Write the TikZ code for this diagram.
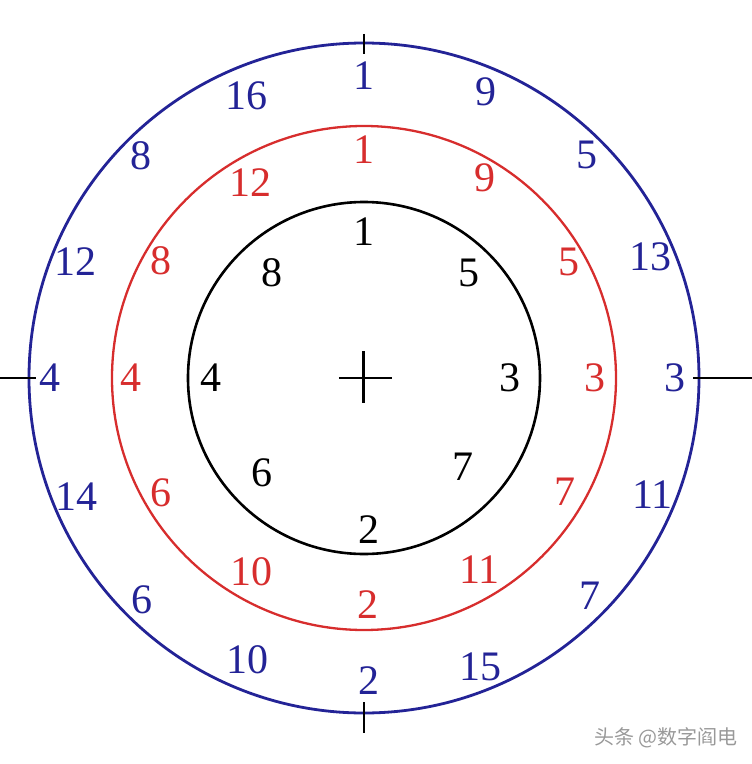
\documentclass[tikz,border=0pt]{standalone}
\usepackage{fontspec}
\setmainfont{Liberation Serif}
\newfontfamily\cjkfont{Noto Sans CJK SC}
\usepackage{tikz}
\definecolor{ringblue}{RGB}{35,35,150}
\definecolor{ringred}{RGB}{215,45,45}

\begin{document}
\begin{tikzpicture}[x=1pt,y=1pt]
    \begin{scope}[every node/.style={font=\fontsize{42}{42}\selectfont, inner sep=0pt}]

      % defines
      \pgfmathsetmacro\BRad{335} % blue ring
      \pgfmathsetmacro\RRad{252} % red ring
      \pgfmathsetmacro\KRad{176} % black ring
      \pgfmathsetmacro\BLab{311} % blue labels
      \pgfmathsetmacro\RLab{231} % red labels
      \pgfmathsetmacro\KLab{146} % black labels

      % picture size
      \useasboundingbox (-364,-386) rectangle (388,378);
      \coordinate (C) at (0,0);

      % draw the three rings
      \draw[ringblue, line width=2.8pt] (C) circle ({\BRad pt});
      \draw[ringred, line width=2.3pt] (C) circle ({\RRad pt});
      \draw[black, line width=2.6pt] (C) circle ({\KRad pt});

      % draw ticks and centre cross
      \draw[line width=1.8pt] (0,344) -- (0,324);
      \draw[line width=1.8pt] (0,-324) -- (0,-355);
      \draw[line width=1.4pt] (-364,0) -- (-328,0);
      \draw[line width=1.4pt] (329,0) -- (388,0);
      \draw[line width=3pt] (0,27) -- (0,-25);
      \draw[line width=1.6pt] (-25,0) -- (28,0);

      % blue labels
      \node[ringblue] (B1) at (90:{\BLab-9}) {1};
      \node[ringblue] (B9) at (67:\BLab) {9};
      \node[ringblue] (B5) at (45:{\BLab+4}) {5};
      \node[ringblue] (B13) at (23:\BLab) {13};
      \node[ringblue] (B3) at (0:\BLab) {3};
      \node[ringblue] (B11) at (-22:\BLab) {11};
      \node[ringblue] (B7) at (-44:{\BLab+3}) {7};
      \node[ringblue] (B15) at (-68:\BLab) {15};
      \node[ringblue] (B2) at (-89:{\BLab-8}) {2};
      \node[ringblue] (B10) at (-112.5:{\BLab-6}) {10};
      \node[ringblue] (B6) at (-135:{\BLab+3}) {6};
      \node[ringblue] (B14) at (-157.5:\BLab) {14};
      \node[ringblue] (B4) at (180:{\BLab+3}) {4};
      \node[ringblue] (B12) at (158:\BLab) {12};
      \node[ringblue] (B8) at (135:{\BLab+4}) {8};
      \node[ringblue] (B16) at (112.5:{\BLab-5}) {16};

      % red labels
      \node[ringred] (R1) at (90:{\RLab-3}) {1};
      \node[ringred] (R9) at (59:{\RLab+3}) {9};
      \node[ringred] (R5) at (29.5:{\RLab+4}) {5};
      \node[ringred] (R3) at (0:\RLab) {3};
      \node[ringred] (R7) at (-29.5:\RLab) {7};
      \node[ringred] (R11) at (-59:{\RLab-7}) {11};
      \node[ringred] (R2) at (-89:{\RLab-4}) {2};
      \node[ringred] (R10) at (-120:{\RLab-7}) {10};
      \node[ringred] (R6) at (-150.5:{\RLab+2}) {6};
      \node[ringred] (R4) at (180:{\RLab+2}) {4};
      \node[ringred] (R8) at (150:{\RLab+3}) {8};
      \node[ringred] (R12) at (120:{\RLab-5}) {12};

      % black labels
      \node (K1) at (90:\KLab) {1};
      \node (K5) at (45:{\KLab+2}) {5};
      \node (K3) at (0:\KLab) {3};
      \node (K7) at (-42:{\KLab-13}) {7};
      \node (K2) at (-88:{\KLab+6}) {2};
      \node (K6) at (-137:{\KLab-7}) {6};
      \node (K4) at (180:{\KLab+7}) {4};
      \node (K8) at (131:{\KLab-6}) {8};

      % watermark
      \node[gray!80, font=\cjkfont\fontsize{20}{20}\selectfont] (WM) at (302,-360) {头条 @数字阎电};

    \end{scope}
\end{tikzpicture}
\end{document}
